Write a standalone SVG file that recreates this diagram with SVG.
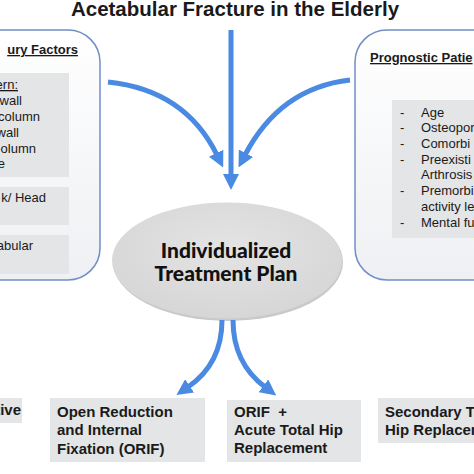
<svg xmlns="http://www.w3.org/2000/svg" width="474" height="474" viewBox="0 0 474 474">
<defs>
<linearGradient id="panelFill" x1="0" y1="0" x2="0" y2="1">
<stop offset="0" stop-color="#ffffff"/>
<stop offset="1" stop-color="#eef0f3"/>
</linearGradient>
<radialGradient id="ellFill" cx="0.5" cy="0.4" r="0.6">
<stop offset="0" stop-color="#e4e4e4"/>
<stop offset="1" stop-color="#d6d6d6"/>
</radialGradient>
<marker id="head" viewBox="0 0 16 16" markerWidth="16" markerHeight="16" refX="2" refY="8" orient="auto" markerUnits="userSpaceOnUse">
<path d="M0,0 L16,8 L0,16 z" fill="#4a8ae2"/>
</marker>
<style>
.panel{fill:url(#panelFill);stroke:#6f8fc6;stroke-width:1.5}
.gbox{fill:#e3e5e6}
.item{font-family:"Liberation Sans",Arial,sans-serif;font-size:13px;fill:#1a1a1a}
.head{font-family:"Liberation Sans",Arial,sans-serif;font-size:13px;font-weight:bold;fill:#1a1a1a;text-decoration:underline}
.opt{font-family:"Liberation Sans",Arial,sans-serif;font-size:15px;font-weight:bold;fill:#1a1a1a}
.plan{font-family:Lato,"Open Sans",sans-serif;font-size:21px;font-weight:900;fill:#111111}
.arrow{fill:none;stroke:#4a8ae2;stroke-width:5;marker-end:url(#head)}
</style>
</defs>
<rect width="474" height="474" fill="#ffffff"/>
<text id="title" x="235" y="16" text-anchor="middle" font-family="'Liberation Sans',Arial,sans-serif" font-size="20.5" font-weight="bold" fill="#1a1a1a">Acetabular Fracture in the Elderly</text>

<g id="injury-factors">
<rect class="panel" x="-40" y="30" width="140" height="250" rx="32"/>
<text class="head" x="78" y="54" text-anchor="end">ury Factors</text>
<rect class="gbox" x="-10" y="73" width="79" height="104"/>
<text class="item" x="18" y="89" text-anchor="end" text-decoration="underline">ern:</text>
<text class="item" x="22" y="105" text-anchor="end">wall</text>
<text class="item" x="40" y="121" text-anchor="end">column</text>
<text class="item" x="19" y="137" text-anchor="end">wall</text>
<text class="item" x="36" y="153" text-anchor="end">olumn</text>
<text class="item" x="5" y="168" text-anchor="end">e</text>
<rect class="gbox" x="-10" y="187" width="79" height="38"/>
<text class="item" x="46" y="202" text-anchor="end">k/ Head</text>
<rect class="gbox" x="-10" y="235" width="79" height="39"/>
<text class="item" x="33" y="250" text-anchor="end">abular</text>
</g>

<g id="prognostic-factors">
<rect class="panel" x="355" y="30" width="160" height="250" rx="32"/>
<text class="head" x="370" y="62">Prognostic Patie</text>
<rect class="gbox" x="392" y="100" width="90" height="138"/>
<g class="item">
<text x="400" y="117">-</text><text x="421" y="117">Age</text>
<text x="400" y="132">-</text><text x="421" y="132">Osteopor</text>
<text x="400" y="148">-</text><text x="421" y="148">Comorbi</text>
<text x="400" y="164">-</text><text x="421" y="164">Preexisti</text>
<text x="421" y="179">Arthrosis</text>
<text x="400" y="195">-</text><text x="421" y="195">Premorbi</text>
<text x="421" y="211">activity le</text>
<text x="400" y="227">-</text><text x="421" y="227">Mental fu</text>
</g>
</g>

<g id="treatment-plan">
<ellipse cx="228" cy="262" rx="115" ry="59" fill="#c9c9c9"/>
<ellipse cx="227" cy="260.5" rx="115" ry="58" fill="url(#ellFill)"/>
<text class="plan" x="226" y="258" text-anchor="middle">Individualized</text>
<text class="plan" x="226" y="281" text-anchor="middle">Treatment Plan</text>
</g>

<g id="connectors">
<path class="arrow" d="M231,30 L231,176"/>
<path class="arrow" d="M108,82 Q185,90 217,155"/>
<path class="arrow" d="M350,80 Q280,88 245,155"/>
<path class="arrow" d="M222,320 C222,351 210,372 188,387"/>
<path class="arrow" d="M233,320 C233,351 245,372 265,387"/>
</g>

<g id="option-conservative">
<rect class="gbox" x="-10" y="398" width="32" height="25"/>
<text class="opt" x="21" y="415" text-anchor="end">tive</text>
</g>
<g id="option-orif">
<rect class="gbox" x="50" y="398" width="155" height="64"/>
<text class="opt" x="57" y="417">Open Reduction</text>
<text class="opt" x="57" y="435">and Internal</text>
<text class="opt" x="57" y="454">Fixation (ORIF)</text>
</g>
<g id="option-orif-tha">
<rect class="gbox" x="227" y="400" width="134" height="62"/>
<text class="opt" x="234" y="417" xml:space="preserve">ORIF  +</text>
<text class="opt" x="234" y="435">Acute Total Hip</text>
<text class="opt" x="234" y="453">Replacement</text>
</g>
<g id="option-secondary">
<rect class="gbox" x="378" y="398" width="100" height="45"/>
<text class="opt" x="385" y="417">Secondary T</text>
<text class="opt" x="385" y="435">Hip Replacem</text>
</g>
</svg>
